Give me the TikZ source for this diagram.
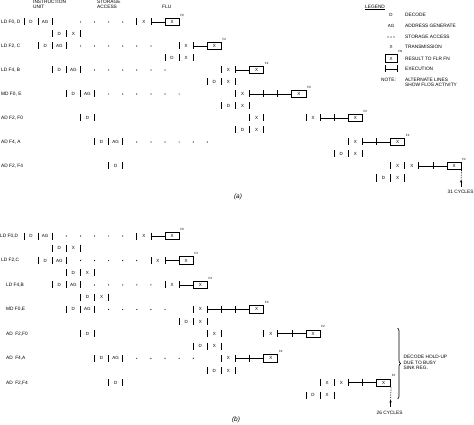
\documentclass[tikz,border=0pt]{standalone}
\usepackage{fontspec}
\setmainfont{Liberation Sans}
\usetikzlibrary{decorations.pathreplacing,arrows.meta,calc}
\newcommand\KX[1]{24+14.1*(#1)}
\newcommand\segm[4]{%
  \foreach \lab [count=\ii from 0] in {#4} {%
    \node[cellt] (#1-\ii) at ({\KX{#3+\ii+0.5}},#2) {\lab};
    \draw[tk] ({\KX{#3+\ii}},#2-3.5) -- ({\KX{#3+\ii}},#2+3.5);
    \xdef\segLast{\ii}%
  }%
  \draw[tk] ({\KX{#3+\segLast+1}},#2-3.5) -- ({\KX{#3+\segLast+1}},#2+3.5);
}
\newcommand\dotr[3]{\foreach \jj in {#2,...,#3} {\fill ({\KX{\jj}},#1) circle (0.6pt);}}
\newcommand\exe[5]{%
  \node[resbox] (#1) at ({\KX{#4+0.5}},#2) {X};
  \coordinate (#1s) at ({\KX{#3}},#2);
  \draw[tk] ({\KX{#3}},#2-3.5) -- ({\KX{#3}},#2+3.5);
  \draw[exl] (#1s) -- (#1.west);
  \node[sup] (#1f) at ([xshift=0.6pt,yshift=1.5pt]#1.north east) {#5};
}
\newcommand\tkat[2]{\draw[tk] ({\KX{#2}},#1-3.5) -- ({\KX{#2}},#1+3.5);}
\begin{document}
\begin{tikzpicture}[x=1pt,y=-1pt,
  txt/.style={inner sep=0pt, font=\fontsize{4.8}{5.2}\selectfont},
  lbl/.style={txt, anchor=west},
  cellt/.style={inner sep=0pt, font=\fontsize{4.5}{5}\selectfont},
  tk/.style={line width=0.75pt},
  exl/.style={line width=0.75pt},
  resbox/.style={draw, line width=0.9pt, minimum width=14.1pt, minimum height=7.5pt, inner sep=0pt, font=\fontsize{4.5}{5}\selectfont},
  sup/.style={inner sep=0pt, font=\fontsize{3}{3.5}\selectfont, anchor=south west},
  captxt/.style={inner sep=0pt, font=\fontsize{6.5}{7}\selectfont\itshape},
]
\useasboundingbox (0,0) rectangle (474,425);
\fill[white] (0,0) rectangle (474,425);

% headers
\node[txt,anchor=base west] (hIU1) at (33,3.6) {INSTRUCTION};
\node[txt,anchor=base west] (hIU2) at (33,8.6) {UNIT};
\node[txt,anchor=base west] (hSA1) at (97,3.6) {STORAGE};
\node[txt,anchor=base west] (hSA2) at (97,8.6) {ACCESS};
\node[txt,anchor=base west] (hFLU) at (162,8.3) {FLU};

% ---------- part (a)
\node[lbl] (aL0) at (1,22) {LD F0, D};
\segm{aA0}{22}{0}{D,AG}
\dotr{22}{4}{7}
\segm{aX0}{22}{8}{X}
\exe{aB0}{22}{9}{10}{F0}

\segm{aA1}{34}{2}{D,X}

\node[lbl] (aL2) at (1,46) {LD F2, C};
\segm{aA2}{46}{1}{D,AG}
\dotr{46}{4}{9}
\segm{aX2}{46}{11}{X}
\exe{aB2}{46}{12}{13}{F2}

\segm{aA3}{58}{10}{D,X}

\node[lbl] (aL4) at (1,70) {LD F4, B};
\segm{aA4}{70}{2}{D,AG}
\dotr{70}{5}{10}
\segm{aX4}{70}{14}{X}
\exe{aB4}{70}{15}{16}{F4}

\segm{aA5}{82}{13}{D,X}

\node[lbl] (aL6) at (1,94) {MD F0, E};
\segm{aA6}{94}{3}{D,AG}
\dotr{94}{6}{11}
\segm{aX6}{94}{15}{X}
\exe{aB6}{94}{16}{19}{F0}
\tkat{94}{17}\tkat{94}{18}

\segm{aA7}{106}{14}{D,X}

\node[lbl] (aL8) at (1,118) {AD F2, F0};
\segm{aA8}{118}{4}{D}
\segm{aY8}{118}{16}{X}
\segm{aX8}{118}{20}{X}
\exe{aB8}{118}{21}{23}{F2}
\tkat{118}{22}

\segm{aA9}{130}{15}{D,X}

\node[lbl] (aL10) at (1,142) {AD F4, A};
\segm{aA10}{142}{5}{D,AG}
\dotr{142}{8}{13}
\segm{aX10}{142}{23}{X}
\exe{aB10}{142}{24}{26}{F4}
\tkat{142}{25}

\segm{aA11}{154}{22}{D,X}

\node[lbl] (aL12) at (1,166) {AD F2, F4};
\segm{aA12}{166}{6}{D}
\segm{aX12}{166}{26}{X,X}
\exe{aB12}{166}{28}{30}{F2}
\tkat{166}{29}

\segm{aA13}{178}{25}{D,X}

\coordinate (aCt) at ({\KX{31}},179.5);
\coordinate (aCb) at ({\KX{31}},186.5);
\draw[densely dotted, line width=0.7pt] (aB12.south east) -- (aCt);
\draw[line width=0.6pt, -{Stealth[length=3pt,width=2.2pt]}] (aCb) -- (aCt);
\node[txt] (aCyc) at ({\KX{31}-0.5},191.5) {31 CYCLES};
\node[captxt] (capA) at (238,197) {(a)};

% ---------- legend
\node[txt,anchor=base west] (lgH) at (365,8.5) {LEGEND};
\draw[line width=0.4pt] ($(lgH.base west)+(0,0.8)$) -- ($(lgH.base east)+(0,0.8)$);
\node[cellt] (lgD) at (391,15) {D};
\node[lbl] (lgDt) at (405,15) {DECODE};
\node[cellt] (lgA) at (391,26) {AG};
\node[lbl] (lgAt) at (405,26) {ADDRESS GENERATE};
\fill (388,37) circle (0.55pt) (391,37) circle (0.55pt) (394,37) circle (0.55pt);
\node[lbl] (lgSt) at (405,37) {STORAGE ACCESS};
\node[cellt] (lgX) at (391,47) {X};
\node[lbl] (lgXt) at (405,47) {TRANSMISSION};
\node[resbox, minimum width=12pt] (lgB) at (391,58.5) {X};
\node[sup] (lgBf) at ([xshift=0.6pt,yshift=1.5pt]lgB.north east) {FN};
\node[lbl] (lgBt) at (405,58.5) {RESULT TO FLR FN};
\coordinate (lgE1) at (385,69);
\coordinate (lgE2) at (397,69);
\draw[tk] (385,65.5) -- (385,72.5);
\draw[tk] (397,65.5) -- (397,72.5);
\draw[exl] (lgE1) -- (lgE2);
\node[lbl] (lgEt) at (405,69) {EXECUTION};
\node[lbl] (lgN) at (381,79.5) {NOTE:};
\node[lbl] (lgN1) at (405,79.5) {ALTERNATE LINES};
\node[lbl] (lgN2) at (405,85) {SHOW FLOS ACTIVITY};

% ---------- part (b)
\node[lbl] (bL0) at (0,236) {LD F0,D};
\segm{bA0}{236}{0}{D,AG}
\dotr{236}{3}{7}
\segm{bX0}{236}{8}{X}
\exe{bB0}{236}{9}{10}{F0}

\segm{bA1}{248.2}{2}{D,X}

\node[lbl] (bL2) at (1,260.5) {LD F2,C};
\segm{bA2}{260.5}{1}{D,AG}
\dotr{260.5}{4}{8}
\segm{bX2}{260.5}{9}{X}
\exe{bB2}{260.5}{10}{11}{F2}

\segm{bA3}{272.7}{3}{D,X}

\node[lbl] (bL4) at (6,284.9) {LD F4,B};
\segm{bA4}{284.9}{2}{D,AG}
\dotr{284.9}{5}{9}
\segm{bX4}{284.9}{10}{X}
\exe{bB4}{284.9}{11}{12}{F4}

\segm{bA5}{297.2}{4}{D,X}

\node[lbl] (bL6) at (6,309.4) {MD F0,E};
\segm{bA6}{309.4}{3}{D,AG}
\dotr{309.4}{6}{10}
\segm{bX6}{309.4}{12}{X}
\exe{bB6}{309.4}{13}{16}{F0}
\tkat{309.4}{14}\tkat{309.4}{15}

\segm{bA7}{321.6}{11}{D,X}

\node[lbl] (bL8) at (6,333.8) {AD\enspace F2,F0};
\segm{bA8}{333.8}{4}{D}
\segm{bY8}{333.8}{13}{X}
\segm{bX8}{333.8}{17}{X}
\exe{bB8}{333.8}{18}{20}{F2}
\tkat{333.8}{19}

\segm{bA9}{346.1}{12}{D,X}

\node[lbl] (bL10) at (6,358.3) {AD\enspace F4,A};
\segm{bA10}{358.3}{5}{D,AG}
\dotr{358.3}{8}{12}
\segm{bX10}{358.3}{14}{X}
\exe{bB10}{358.3}{15}{17}{F4}
\tkat{358.3}{16}

\segm{bA11}{370.5}{13}{D,X}

\node[lbl] (bL12) at (6,382.8) {AD\enspace F2,F4};
\segm{bA12}{382.8}{6}{D}
\segm{bX12}{382.8}{21}{X,X}
\exe{bB12}{382.8}{23}{25}{F2}
\tkat{382.8}{24}

\segm{bA13}{395}{20}{D,X}

\coordinate (bCt) at ({\KX{26}},399.5);
\coordinate (bCb) at ({\KX{26}},406.5);
\draw[densely dotted, line width=0.7pt] (bB12.south east) -- (bCt);
\draw[line width=0.6pt, -{Stealth[length=3pt,width=2.2pt]}] (bCb) -- (bCt);
\node[txt] (bCyc) at ({\KX{26}-1},412.5) {26 CYCLES};

\coordinate (brT) at (397.5,328);
\coordinate (brB) at (397.5,399);
\draw[line width=0.7pt, decorate, decoration={brace, amplitude=3pt}] (brT) -- (brB);
\node[txt, anchor=west, align=left] (brTxt) at (403.5,362.5) {DECODE HOLD-UP\\DUE TO BUSY\\SINK REG.};

\node[captxt] (capB) at (236,420) {(b)};
\end{tikzpicture}
\end{document}
